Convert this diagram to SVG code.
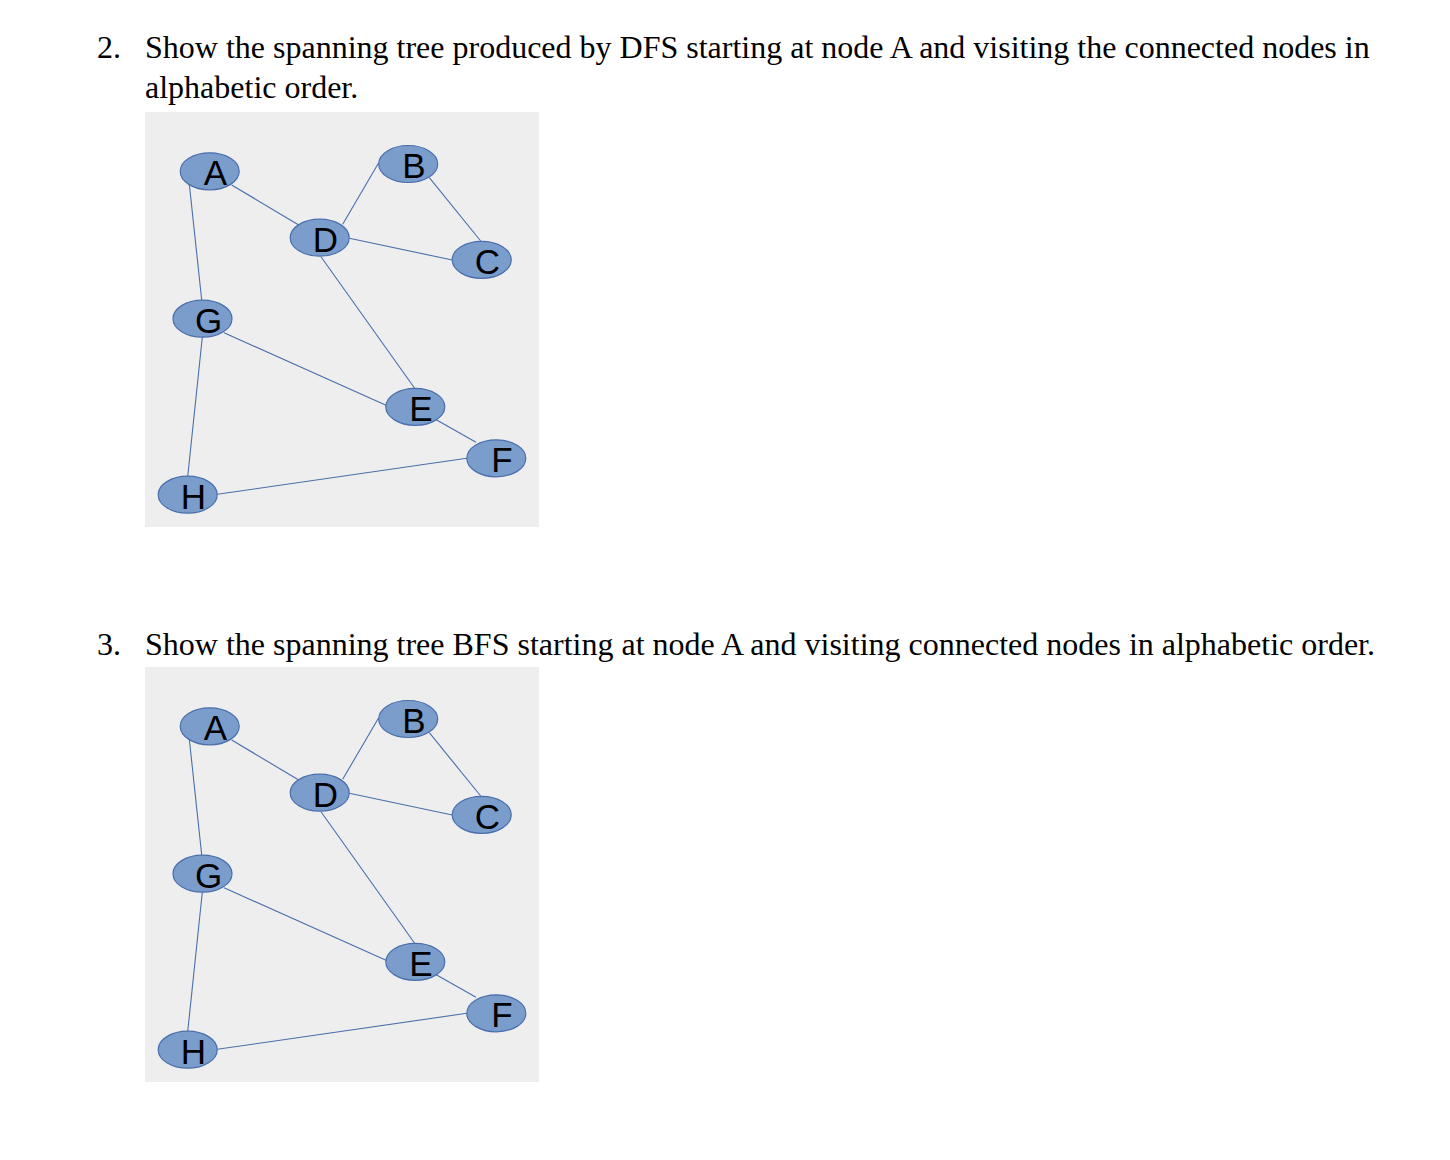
<svg xmlns="http://www.w3.org/2000/svg" width="1450" height="1160" viewBox="0 0 1450 1160">
<style>
.q{font-family:"Liberation Serif","Times New Roman",serif;font-size:32px;fill:#000}
.bg{fill:#eeeeee}
.n ellipse{fill:#7b9dcc;stroke:#4a6fac;stroke-width:1.2}
.n text{font-family:"Liberation Sans",Arial,sans-serif;font-size:35px;fill:#000;text-anchor:middle}
.e line{stroke:#4a6fac;stroke-width:1.1}
</style>
<rect width="1450" height="1160" fill="#ffffff"/>
<text class="q" x="97" y="57.5">2.</text>
<text class="q" x="145" y="57.5">Show the spanning tree produced by DFS starting at node A and visiting the connected nodes in</text>
<text class="q" x="145" y="97.5">alphabetic order.</text>
<text class="q" x="97" y="655">3.</text>
<text class="q" x="145" y="655">Show the spanning tree BFS starting at node A and visiting connected nodes in alphabetic order.</text>

<g id="graph1">
<rect class="bg" x="145" y="112" width="394" height="415"/>
<g id="edges1" class="e">
<line x1="189.3" y1="184" x2="201.7" y2="300"/>
<line x1="231.7" y1="185" x2="298.7" y2="225"/>
<line x1="342.7" y1="224.3" x2="378.7" y2="162.7"/>
<line x1="429.3" y1="177.7" x2="480.7" y2="241"/>
<line x1="349.3" y1="238.3" x2="452.3" y2="260"/>
<line x1="321" y1="256.7" x2="415" y2="388.7"/>
<line x1="224" y1="332.7" x2="386" y2="405.3"/>
<line x1="202.3" y1="337.3" x2="187.7" y2="476.7"/>
<line x1="436.7" y1="420" x2="476" y2="442.3"/>
<line x1="217.3" y1="494.3" x2="466.7" y2="458.3"/>
</g>
<g id="g1-A" class="n"><ellipse cx="209.7" cy="171.3" rx="29.5" ry="18.5"/><text x="215.5" y="185">A</text></g>
<g id="g1-B" class="n"><ellipse cx="408.2" cy="164" rx="29.5" ry="18.5"/><text x="414" y="177.5">B</text></g>
<g id="g1-C" class="n"><ellipse cx="481.7" cy="259.8" rx="29.5" ry="18.5"/><text x="487.5" y="273.5">C</text></g>
<g id="g1-D" class="n"><ellipse cx="319.7" cy="237.7" rx="29.5" ry="18.5"/><text x="325.5" y="251.5">D</text></g>
<g id="g1-E" class="n"><ellipse cx="415.3" cy="406.8" rx="29.5" ry="18.5"/><text x="421" y="420.5">E</text></g>
<g id="g1-F" class="n"><ellipse cx="496.3" cy="458.3" rx="29.5" ry="18.5"/><text x="502" y="472">F</text></g>
<g id="g1-G" class="n"><ellipse cx="202.5" cy="318.7" rx="29.5" ry="18.5"/><text x="208.5" y="332.5">G</text></g>
<g id="g1-H" class="n"><ellipse cx="187.7" cy="494.7" rx="29.5" ry="18.5"/><text x="193.5" y="508.5">H</text></g>
</g>

<g id="graph2" transform="translate(0,555)">
<rect class="bg" x="145" y="112" width="394" height="415"/>
<g id="edges2" class="e">
<line x1="189.3" y1="184" x2="201.7" y2="300"/>
<line x1="231.7" y1="185" x2="298.7" y2="225"/>
<line x1="342.7" y1="224.3" x2="378.7" y2="162.7"/>
<line x1="429.3" y1="177.7" x2="480.7" y2="241"/>
<line x1="349.3" y1="238.3" x2="452.3" y2="260"/>
<line x1="321" y1="256.7" x2="415" y2="388.7"/>
<line x1="224" y1="332.7" x2="386" y2="405.3"/>
<line x1="202.3" y1="337.3" x2="187.7" y2="476.7"/>
<line x1="436.7" y1="420" x2="476" y2="442.3"/>
<line x1="217.3" y1="494.3" x2="466.7" y2="458.3"/>
</g>
<g id="g2-A" class="n"><ellipse cx="209.7" cy="171.3" rx="29.5" ry="18.5"/><text x="215.5" y="185">A</text></g>
<g id="g2-B" class="n"><ellipse cx="408.2" cy="164" rx="29.5" ry="18.5"/><text x="414" y="177.5">B</text></g>
<g id="g2-C" class="n"><ellipse cx="481.7" cy="259.8" rx="29.5" ry="18.5"/><text x="487.5" y="273.5">C</text></g>
<g id="g2-D" class="n"><ellipse cx="319.7" cy="237.7" rx="29.5" ry="18.5"/><text x="325.5" y="251.5">D</text></g>
<g id="g2-E" class="n"><ellipse cx="415.3" cy="406.8" rx="29.5" ry="18.5"/><text x="421" y="420.5">E</text></g>
<g id="g2-F" class="n"><ellipse cx="496.3" cy="458.3" rx="29.5" ry="18.5"/><text x="502" y="472">F</text></g>
<g id="g2-G" class="n"><ellipse cx="202.5" cy="318.7" rx="29.5" ry="18.5"/><text x="208.5" y="332.5">G</text></g>
<g id="g2-H" class="n"><ellipse cx="187.7" cy="494.7" rx="29.5" ry="18.5"/><text x="193.5" y="508.5">H</text></g>
</g>
</svg>
